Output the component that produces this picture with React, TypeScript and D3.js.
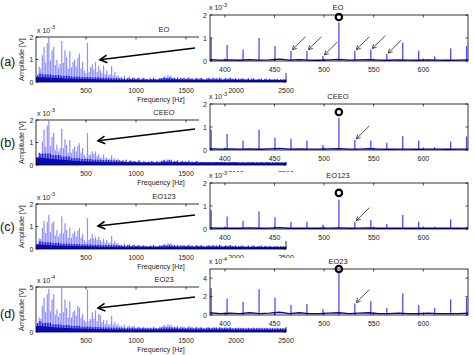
import React from "react";
import * as d3 from "d3";

// ---------------- data ----------------
const FUNDAMENTAL_HZ = 16.09;
const ZOOM_FIRST_HARMONIC = 24;
const FLOOR_STEP_HZ = 100;
const ZOOM_FLOOR_START_HZ = 385;
const ZOOM_FLOOR_STEP_HZ = 10;

const panelTags = ["(a)", "(b)", "(c)", "(d)"];
const methodNames = ["EO", "CEEO", "EO123", "EO23"];
const scaleExponents = ["-3", "-3", "-3", "-4"];
const overviewYMax = [2, 2, 2, 5];
const overviewYTicks = [[0, 1, 2], [0, 1, 2], [0, 1, 2], [0, 5]];
const zoomYMax = [2, 2, 2, 5];
const zoomYTicks = [[0, 1, 2], [0, 1, 2], [0, 1, 2], [0, 2, 4]];
const overviewXDomain = [0, 2500];
const overviewXTicks = [500, 1000, 1500, 2000, 2500];
const zoomXDomain = [385, 645];
const zoomXTicks = [400, 450, 500, 550, 600];

// harmonic amplitudes k = 1..50 (overview)
const eoLow = [0.30, 0.67, 0.60, 1.19, 1.56, 0.85, 1.73, 1.97, 0.95, 1.41, 1.56, 0.75, 0.99, 0.65, 0.80, 1.82, 0.85, 1.41, 1.10, 0.60, 1.38, 0.65, 0.89, 0.99, 0.70, 1.08, 1.26, 0.60, 0.89, 0.50, 0.40, 1.73, 0.45, 0.67, 0.78, 0.55, 0.89, 0.45, 0.70, 0.52, 0.40, 0.74, 0.35, 0.52, 0.30, 0.35, 0.70, 0.30, 0.44, 0.25];
const ceeoLow = [0.25, 0.54, 0.50, 1.04, 1.57, 0.80, 1.76, 1.97, 0.85, 1.26, 1.43, 0.65, 0.90, 0.60, 0.75, 1.61, 0.75, 1.14, 0.90, 0.55, 1.11, 0.55, 0.71, 0.83, 0.60, 0.86, 0.97, 0.55, 0.76, 0.45, 0.35, 1.43, 0.45, 0.47, 0.61, 0.50, 0.61, 0.40, 0.47, 0.33, 0.30, 0.47, 0.28, 0.33, 0.25, 0.28, 0.43, 0.25, 0.30, 0.22];
const eo123Low = [0.22, 0.48, 0.45, 0.93, 1.25, 0.70, 1.20, 1.52, 0.75, 1.15, 1.22, 0.60, 0.85, 0.55, 0.70, 1.45, 0.70, 1.15, 0.85, 0.50, 0.96, 0.50, 0.70, 0.78, 0.55, 0.81, 0.93, 0.50, 0.66, 0.40, 0.30, 1.37, 0.40, 0.48, 0.66, 0.45, 0.55, 0.40, 0.55, 0.40, 0.30, 0.45, 0.28, 0.40, 0.25, 0.30, 0.58, 0.25, 0.35, 0.22];
const eo23Low = [1.0, 1.6, 1.5, 2.9, 3.8, 2.2, 4.2, 4.8, 2.3, 3.6, 4.2, 1.9, 2.5, 1.7, 2.1, 4.9, 2.2, 3.6, 2.7, 1.6, 3.4, 1.6, 2.2, 2.4, 1.8, 2.9, 2.7, 1.6, 2.0, 1.3, 1.1, 4.7, 1.2, 1.45, 2.2, 1.5, 2.4, 1.2, 2.0, 1.9, 1.1, 1.3, 0.9, 1.3, 0.8, 0.9, 1.8, 0.8, 1.1, 0.7];

// harmonic amplitudes k = 51..155 (overview tail)
const eoTail = [.30, .18, .22, .15, .28, .12, .20, .25, .14, .18, .22, .12, .16, .20, .10, .15, .18, .12, .14, .10, .16, .12, .20, .14, .10, .12, .18, .15, .22, .26, .18, .30, .24, .28, .16, .20, .14, .22, .12, .18, .15, .20, .12, .16, .22, .14, .18, .10, .15, .20, .12, .16, .18, .12, .10, .14, .18, .16, .12, .20, .14, .18, .12, .22, .16, .10, .14, .18, .12, .16, .20, .14, .12, .18, .10, .15, .12, .16, .14, .10, .12, .16, .10, .14, .18, .12, .10, .14, .12, .16, .10, .12, .15, .10, .14, .12, .10, .13, .11, .14, .10, .12, .11, .13, .10];
const ceeoTail = [.28, .20, .18, .22, .15, .25, .12, .18, .20, .14, .18, .15, .12, .22, .14, .10, .16, .14, .12, .15, .12, .18, .14, .10, .16, .12, .14, .18, .20, .24, .16, .26, .22, .25, .14, .18, .16, .20, .12, .15, .18, .14, .16, .12, .20, .12, .15, .12, .14, .18, .10, .14, .16, .14, .12, .12, .15, .14, .10, .18, .12, .16, .14, .20, .14, .12, .12, .16, .10, .14, .18, .12, .14, .16, .12, .13, .10, .14, .12, .10, .14, .12, .12, .13, .16, .10, .12, .12, .10, .14, .12, .10, .13, .12, .12, .10, .12, .11, .12, .12, .12, .10, .12, .11, .10];
const eo123Tail = [.26, .16, .20, .14, .24, .12, .18, .22, .13, .16, .20, .12, .15, .18, .10, .14, .16, .12, .12, .10, .15, .12, .18, .13, .10, .12, .16, .14, .20, .24, .16, .27, .22, .25, .15, .18, .13, .20, .12, .16, .14, .18, .12, .15, .20, .13, .16, .10, .14, .18, .12, .15, .16, .12, .10, .13, .16, .15, .12, .18, .13, .16, .12, .20, .15, .10, .13, .16, .12, .15, .18, .13, .12, .16, .10, .14, .12, .15, .13, .10, .12, .15, .10, .13, .16, .12, .10, .13, .12, .15, .10, .12, .14, .10, .13, .12, .10, .12, .11, .13, .10, .12, .11, .12, .10];
const eo23Tail = [.9, .6, .7, .5, .8, .4, .6, .7, .5, .6, .7, .4, .5, .6, .4, .5, .6, .4, .5, .4, .5, .4, .6, .5, .4, .4, .6, .5, .7, .8, .6, .9, .7, .8, .5, .6, .5, .7, .4, .6, .5, .6, .4, .5, .7, .5, .6, .4, .5, .6, .4, .5, .6, .4, .4, .5, .6, .5, .4, .6, .5, .6, .4, .7, .5, .4, .5, .6, .4, .5, .6, .4, .4, .5, .4, .5, .4, .5, .4, .4, .4, .5, .4, .4, .5, .4, .4, .5, .4, .5, .4, .4, .5, .4, .4, .4, .4, .4, .4, .5, .4, .4, .4, .4, .4];

// noise floor of overview, every 100 Hz from 0 to 2500
const eoFloor = [.22, .2, .18, .16, .14, .13, .12, .11, .1, .1, .1, .1, .1, .11, .11, .1, .1, .1, .1, .1, .1, .1, .09, .09, .09, .09];
const ceeoFloor = [.34, .3, .26, .22, .18, .16, .14, .13, .12, .12, .12, .11, .11, .12, .12, .11, .11, .11, .11, .11, .1, .1, .1, .1, .1, .1];
const eo123Floor = [.2, .18, .16, .14, .13, .12, .11, .1, .1, .1, .1, .1, .1, .1, .1, .1, .1, .1, .1, .1, .09, .09, .09, .09, .09, .09];
const eo23Floor = [.7, .6, .5, .45, .4, .35, .32, .3, .28, .28, .28, .27, .27, .3, .3, .28, .28, .27, .27, .27, .26, .26, .25, .25, .25, .25];

// zoom: harmonics 24..40
const eoZoomPeaks = [1.0, 0.7, 0.5, 1.0, 0.65, 0.45, 0.45, 0.22, 1.67, 0.45, 0.5, 0.3, 0.8, 0.45, 0.2, 0.55, 0.65];
const ceeoZoomPeaks = [0.88, 0.7, 0.41, 0.88, 0.53, 0.49, 0.41, 0.22, 1.4, 0.44, 0.41, 0.31, 0.6, 0.41, 0.12, 0.37, 0.59];
const eo123ZoomPeaks = [0.83, 0.54, 0.36, 0.76, 0.51, 0.32, 0.32, 0.18, 1.27, 0.32, 0.39, 0.22, 0.61, 0.32, 0.1, 0.42, 0.1];
const eo23ZoomPeaks = [2.9, 1.8, 1.45, 2.8, 1.9, 1.1, 1.2, 0.65, 4.8, 1.25, 1.5, 0.75, 2.35, 1.1, 0.75, 1.7, 1.9];

// zoom noise floor, every 10 Hz from 385 Hz
const eoZoomFloor = [.06, .04, .05, .03, .06, .04, .05, .08, .04, .06, .04, .03, .05, .07, .04, .05, .06, .04, .03, .05, .04, .03, .05, .04, .03, .04, .05];
const ceeoZoomFloor = [.06, .04, .05, .04, .05, .03, .05, .07, .04, .05, .04, .04, .05, .06, .04, .04, .06, .04, .03, .04, .04, .03, .04, .04, .03, .04, .04];
const eo123ZoomFloor = [.05, .03, .04, .03, .05, .03, .04, .06, .03, .04, .03, .03, .04, .05, .03, .04, .05, .03, .03, .04, .03, .03, .04, .03, .03, .03, .04];
const eo23ZoomFloor = [.25, .15, .2, .15, .25, .15, .2, .3, .15, .25, .15, .15, .2, .25, .15, .2, .25, .15, .15, .2, .15, .15, .2, .15, .15, .15, .2];

const circleHarmonic = 32;
const circleAmp = [1.91, 1.65, 1.57, 5.0];
const markedHarmonics = [[29, 30, 31, 33, 34, 35], [33], [33], [33]];
const bigArrowFrom = [[1590, 1.51], [1590, 1.6], [1590, 1.51], [1590, 3.9]];
const bigArrowTo = [[640, 0.99], [620, 1.08], [620, 1.02], [620, 2.67]];

const overviewLow = [eoLow, ceeoLow, eo123Low, eo23Low];
const overviewTail = [eoTail, ceeoTail, eo123Tail, eo23Tail];
const overviewFloor = [eoFloor, ceeoFloor, eo123Floor, eo23Floor];
const zoomPeaks = [eoZoomPeaks, ceeoZoomPeaks, eo123ZoomPeaks, eo23ZoomPeaks];
const zoomFloor = [eoZoomFloor, ceeoZoomFloor, eo123ZoomFloor, eo23ZoomFloor];

// ---------------- layout ----------------
const W = 474, H = 355;
const FONT = "'Liberation Sans', Arial, Helvetica, sans-serif";
const OV = { x0: 36, x1: 286, h: 45, tops: [37, 120, 204, 287] };
const ZM = { x0: 210, x1: 468, h: 46, tops: [15, 104, 183, 269] };
const TAG_Y = [66, 147, 231, 318];
const TICK = 2.5;

function vHead(fx: number, fy: number, tx: number, ty: number, len: number, half: number) {
  const dx = tx - fx, dy = ty - fy;
  const L = Math.hypot(dx, dy);
  const ux = dx / L, uy = dy / L;
  const px = -uy, py = ux;
  const bx = tx - ux * len, by = ty - uy * len;
  return `M${bx + px * half},${by + py * half}L${tx},${ty}L${bx - px * half},${by - py * half}`;
}

function ScaleNote({ x, y, exp }: { x: number; y: number; exp: string }) {
  return (
    <text x={x} y={y} fontSize={7} fontFamily={FONT} fill="#222">
      x 10
      <tspan fontSize={5.5} dy={-3.5}>{exp}</tspan>
    </text>
  );
}

function Overview({ i }: { i: number }) {
  const top = OV.tops[i], bottom = top + OV.h;
  const x = d3.scaleLinear().domain(overviewXDomain).range([OV.x0, OV.x1]);
  const y = d3.scaleLinear().domain([0, overviewYMax[i]]).range([bottom, top]);
  const amps = [...overviewLow[i], ...overviewTail[i]];
  const floor = overviewFloor[i];
  const area = d3.area<number>()
    .x((_, k) => x(k * FLOOR_STEP_HZ))
    .y0(bottom)
    .y1((v) => y(v));
  const clipId = `ovclip${i}`;
  return (
    <g>
      <defs>
        <clipPath id={clipId}>
          <rect x={OV.x0} y={top} width={OV.x1 - OV.x0} height={OV.h} />
        </clipPath>
      </defs>
      <rect x={OV.x0} y={top} width={OV.x1 - OV.x0} height={OV.h} fill="#fff" />
      <g clipPath={`url(#${clipId})`}>
        {amps.map((a, k) => {
          const f = (k + 1) * FUNDAMENTAL_HZ;
          return (
            <rect key={k} x={x(f) - 0.6} y={y(a)} width={1.2} height={bottom - y(a)} fill="#8e8eff" />
          );
        })}
        {amps.map((a, k) => {
          const f = (k + 1) * FUNDAMENTAL_HZ;
          const fl = floor[Math.min(floor.length - 1, Math.round(f / FLOOR_STEP_HZ))];
          const h = Math.min(a, fl * 1.7);
          return <rect key={"d" + k} x={x(f) - 0.5} y={y(h)} width={1} height={bottom - y(h)} fill="#1a1ad0" />;
        })}
        <path d={area(floor) || ""} fill="#0a0ab8" />
      </g>
      <rect x={OV.x0} y={top} width={OV.x1 - OV.x0} height={OV.h} fill="none" stroke="#000" strokeWidth={0.8} />
      {overviewXTicks.map((t) => (
        <g key={t}>
          <line x1={x(t)} x2={x(t)} y1={bottom} y2={bottom - TICK} stroke="#000" strokeWidth={0.7} />
          <line x1={x(t)} x2={x(t)} y1={top} y2={top + TICK} stroke="#000" strokeWidth={0.7} />
          <text x={x(t)} y={bottom + 10.5} fontSize={7} fontFamily={FONT} textAnchor="middle" fill="#222">{t}</text>
        </g>
      ))}
      {overviewYTicks[i].map((t) => (
        <g key={t}>
          <line x1={OV.x0} x2={OV.x0 + TICK} y1={y(t)} y2={y(t)} stroke="#000" strokeWidth={0.7} />
          <line x1={OV.x1} x2={OV.x1 - TICK} y1={y(t)} y2={y(t)} stroke="#000" strokeWidth={0.7} />
          <text x={OV.x0 - 2.5} y={y(t) + 2.5} fontSize={7} fontFamily={FONT} textAnchor="end" fill="#222">{t}</text>
        </g>
      ))}
      <ScaleNote x={37} y={top - 4.5} exp={scaleExponents[i]} />
      <text x={164} y={top - 5} fontSize={7.5} fontFamily={FONT} textAnchor="middle" fill="#222">{methodNames[i]}</text>
      <text x={161} y={bottom + 20} fontSize={7} fontFamily={FONT} textAnchor="middle" fill="#222">Frequency [Hz]</text>
      <text transform={`translate(24,${(top + bottom) / 2}) rotate(-90)`} fontSize={7.2} fontFamily={FONT} textAnchor="middle" fill="#222">Amplitude [V]</text>
      <text x={0} y={TAG_Y[i]} fontSize={12.5} fontFamily={FONT} fill="#111">{panelTags[i]}</text>
    </g>
  );
}

function Zoom({ i }: { i: number }) {
  const top = ZM.tops[i], bottom = top + ZM.h;
  const x = d3.scaleLinear().domain(zoomXDomain).range([ZM.x0, ZM.x1]);
  const y = d3.scaleLinear().domain([0, zoomYMax[i]]).range([bottom, top]);
  const peaks = zoomPeaks[i];
  const floor = zoomFloor[i];
  const line = d3.line<number>()
    .x((_, k) => x(ZOOM_FLOOR_START_HZ + k * ZOOM_FLOOR_STEP_HZ))
    .y((v) => y(v));
  const clipId = `zmclip${i}`;
  const ampAt = (h: number) => peaks[h - ZOOM_FIRST_HARMONIC];
  const coverTop = Math.max(0, top - 11);
  const coverBottom = bottom + 12;
  return (
    <g>
      <defs>
        <clipPath id={clipId}>
          <rect x={ZM.x0} y={top} width={ZM.x1 - ZM.x0} height={ZM.h} />
        </clipPath>
      </defs>
      <rect x={199} y={coverTop} width={W - 199} height={coverBottom - coverTop} fill="#fff" />
      <g clipPath={`url(#${clipId})`}>
        {peaks.map((a, k) => {
          const f = (ZOOM_FIRST_HARMONIC + k) * FUNDAMENTAL_HZ;
          return <line key={k} x1={x(f)} x2={x(f)} y1={bottom} y2={y(a)} stroke="#4d4dff" strokeWidth={1.3} />;
        })}
        <path d={line(floor) || ""} fill="none" stroke="#0000b0" strokeWidth={1.4} />
      </g>
      <rect x={ZM.x0} y={top} width={ZM.x1 - ZM.x0} height={ZM.h} fill="none" stroke="#000" strokeWidth={0.8} />
      {zoomXTicks.map((t) => (
        <g key={t}>
          <line x1={x(t)} x2={x(t)} y1={bottom} y2={bottom - TICK} stroke="#000" strokeWidth={0.7} />
          <line x1={x(t)} x2={x(t)} y1={top} y2={top + TICK} stroke="#000" strokeWidth={0.7} />
          <text x={x(t)} y={bottom + 10.5} fontSize={7} fontFamily={FONT} textAnchor="middle" fill="#222">{t}</text>
        </g>
      ))}
      {zoomYTicks[i].map((t) => (
        <g key={t}>
          <line x1={ZM.x0} x2={ZM.x0 + TICK} y1={y(t)} y2={y(t)} stroke="#000" strokeWidth={0.7} />
          <line x1={ZM.x1} x2={ZM.x1 - TICK} y1={y(t)} y2={y(t)} stroke="#000" strokeWidth={0.7} />
          <text x={ZM.x0 - 3} y={y(t) + 2.5} fontSize={7} fontFamily={FONT} textAnchor="end" fill="#222">{t}</text>
        </g>
      ))}
      <ScaleNote x={209} y={top - 5} exp={scaleExponents[i]} />
      <text x={338} y={top - 5} fontSize={7.5} fontFamily={FONT} textAnchor="middle" fill="#222">{methodNames[i]}</text>
      <circle cx={x(circleHarmonic * FUNDAMENTAL_HZ)} cy={y(circleAmp[i])} r={3.2} fill="none" stroke="#000" strokeWidth={2.2} />
      {markedHarmonics[i].map((h) => {
        const hx = x(h * FUNDAMENTAL_HZ) + 1.5;
        const hy = y(ampAt(h)) - 1;
        const tx = hx + 13, ty = hy - 13;
        return (
          <g key={h}>
            <line x1={tx} y1={ty} x2={hx} y2={hy} stroke="#222" strokeWidth={0.8} />
            <path d={vHead(tx, ty, hx, hy, 4, 2.2)} fill="none" stroke="#222" strokeWidth={0.8} />
          </g>
        );
      })}
    </g>
  );
}

function BigArrow({ i }: { i: number }) {
  const top = OV.tops[i], bottom = top + OV.h;
  const x = d3.scaleLinear().domain(overviewXDomain).range([OV.x0, OV.x1]);
  const y = d3.scaleLinear().domain([0, overviewYMax[i]]).range([bottom, top]);
  const [f0, a0] = bigArrowFrom[i];
  const [f1, a1] = bigArrowTo[i];
  const x0 = x(f0), y0 = y(a0), x1 = x(f1), y1 = y(a1);
  return (
    <g>
      <line x1={x0} y1={y0} x2={x1} y2={y1} stroke="#000" strokeWidth={1.5} />
      <path d={vHead(x0, y0, x1, y1, 7, 3.8)} fill="none" stroke="#000" strokeWidth={1.6} />
    </g>
  );
}

export default function App() {
  const idx = [0, 1, 2, 3];
  return (
    <svg width={W} height={H} style={{ position: "fixed", left: 0, top: 0, background: "#fff", display: "block" }}>
      <rect x={0} y={0} width={W} height={H} fill="#fff" />
      {idx.map((i) => <Overview key={"o" + i} i={i} />)}
      {idx.map((i) => <Zoom key={"z" + i} i={i} />)}
      {idx.map((i) => <BigArrow key={"a" + i} i={i} />)}
    </svg>
  );
}
